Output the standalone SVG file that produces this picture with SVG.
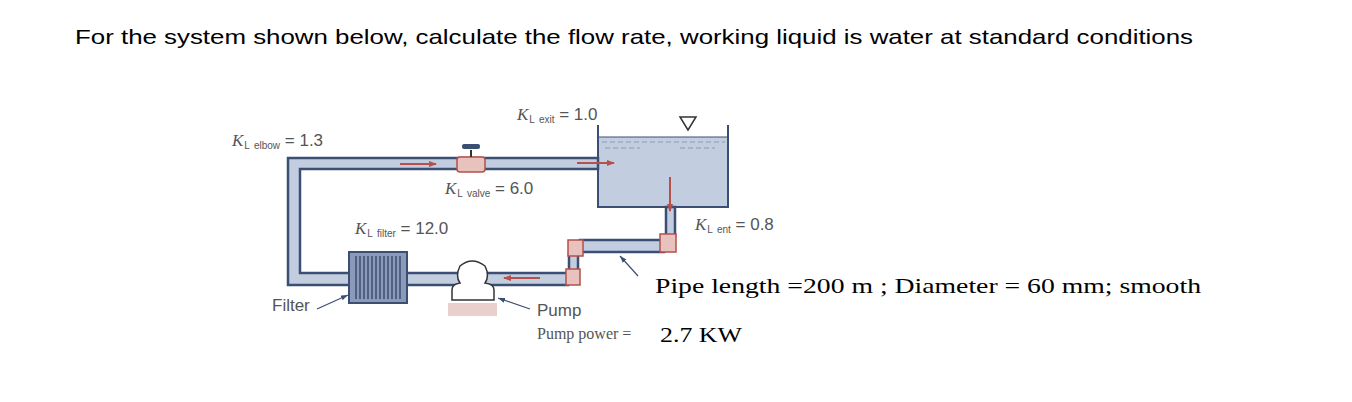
<svg xmlns="http://www.w3.org/2000/svg" width="1352" height="402" viewBox="0 0 1352 402">
<style>
.pipe{fill:#c3cde0;stroke:#3b4f74;stroke-width:2.5}
.fit{fill:#e8c3bd;stroke:#b5504b;stroke-width:1.5}
.lbl{font-family:"Liberation Sans",Arial,sans-serif;fill:#555;font-size:17px}
.k{font-family:"Liberation Serif",serif;font-style:italic;fill:#555;font-size:17px}
.sub{font-family:"Liberation Sans",Arial,sans-serif;fill:#555;font-size:10px}
.ser{font-family:"Liberation Serif",serif;fill:#000;font-size:22px}
.fl{stroke:#b5504b;stroke-width:2;fill:none;marker-end:url(#ah)}
.ptr{stroke:#3b4f74;stroke-width:1.2;fill:none;marker-end:url(#pa)}
</style>
<defs>
<marker id="ah" markerWidth="8" markerHeight="6" refX="7" refY="3" orient="auto" markerUnits="userSpaceOnUse" viewBox="0 0 8 6"><path d="M0,0L8,3L0,6z" fill="#b5504b"/></marker>
<marker id="pa" markerWidth="7" markerHeight="5" refX="7" refY="2.5" orient="auto" markerUnits="userSpaceOnUse" viewBox="0 0 7 5"><path d="M0,0L7,2.5L0,5z" fill="#3b4f74"/></marker>
</defs>
<text x="75" y="44" font-family="Liberation Sans,Arial,sans-serif" font-size="21" fill="#000" textLength="1118" lengthAdjust="spacingAndGlyphs">For the system shown below, calculate the flow rate, working liquid is water at standard conditions</text>
<g id="tank">
<path d="M598,137H728V207H598Z" fill="#c3cde0"/>
<path d="M598,125V158M598,169V207H728V125" fill="none" stroke="#3b4f74" stroke-width="2"/>
<line x1="599" y1="137" x2="727" y2="137" stroke="#3b4f74" stroke-width="1"/>
<path d="M602,142H725M605,148H640M680,148H715" stroke="#8a9ab8" stroke-width="1" stroke-dasharray="5,3"/>
<path d="M680,117H696L688,130Z" fill="#fff" stroke="#333" stroke-width="1.5"/>
</g>
<g id="loop">
<path class="pipe" d="M598,158H288V285H568V273H300V169H598Z"/>
<rect class="pipe" x="666" y="207" width="9" height="30"/>
<rect class="pipe" x="580" y="240" width="84" height="12"/>
<rect class="pipe" x="569" y="254" width="9" height="18"/>
<path class="fit" d="M660,234H676V252H660Z"/>
<path class="fit" d="M568,240H583V256H568Z"/>
<path class="fit" d="M566,269H580V285H566Z"/>
</g>
<g id="valve">
<rect class="fit" x="457" y="157" width="28" height="15" rx="3"/>
<line x1="471" y1="150" x2="471" y2="157" stroke="#333" stroke-width="2"/>
<rect x="462" y="144" width="18" height="5" rx="2" fill="#3b4f74"/>
</g>
<g id="filter">
<rect x="349" y="252" width="58" height="51" fill="#8a9ab8" stroke="#3b4f74" stroke-width="2"/>
<path d="M356,256V299M360,256V299M364,256V299M368,256V299M372,256V299M376,256V299M380,256V299M384,256V299M388,256V299M392,256V299M396,256V299M400,256V299" stroke="#3b4f74" stroke-width="1.5"/>
</g>
<g id="pump">
<rect x="448" y="303" width="49" height="13" fill="#ead0cc"/>
<path d="M452,300V290Q452,284 460,283Q455,276 460,266Q472,256 485,266Q490,276 485,283Q494,284 494,290V300Z" fill="#fff" stroke="#333" stroke-width="1.5"/>
</g>
<g id="connectors">
<line class="fl" x1="400" y1="164" x2="436" y2="164"/>
<line class="fl" x1="577" y1="163" x2="614" y2="163"/>
<line class="fl" x1="670" y1="177" x2="670" y2="211"/>
<line class="fl" x1="540" y1="278" x2="504" y2="278"/>
<line class="ptr" x1="317" y1="309" x2="348" y2="295"/>
<line class="ptr" x1="530" y1="309" x2="498" y2="298"/>
<line class="ptr" x1="638" y1="276" x2="620" y2="256"/>
</g>
<g id="labels">
<text x="232" y="146"><tspan class="k">K</tspan><tspan class="sub" dx="1" dy="3">L</tspan><tspan class="sub" dx="4">elbow</tspan><tspan class="lbl" dy="-3" font-family="Liberation Serif,serif"> = 1.3</tspan></text>
<text x="517" y="120"><tspan class="k">K</tspan><tspan class="sub" dx="1" dy="3">L</tspan><tspan class="sub" dx="4">exit</tspan><tspan class="lbl" dy="-3"> = 1.0</tspan></text>
<text x="445" y="194"><tspan class="k">K</tspan><tspan class="sub" dx="1" dy="3">L</tspan><tspan class="sub" dx="4">valve</tspan><tspan class="lbl" dy="-3"> = 6.0</tspan></text>
<text x="355" y="234"><tspan class="k">K</tspan><tspan class="sub" dx="1" dy="3">L</tspan><tspan class="sub" dx="4">filter</tspan><tspan class="lbl" dy="-3"> = 12.0</tspan></text>
<text x="695" y="230"><tspan class="k">K</tspan><tspan class="sub" dx="1" dy="3">L</tspan><tspan class="sub" dx="4">ent</tspan><tspan class="lbl" dy="-3"> = 0.8</tspan></text>
<text class="lbl" x="272" y="311">Filter</text>
<text class="lbl" x="537" y="316">Pump</text>
<text x="537" y="339" font-family="Liberation Serif,serif" font-size="16" fill="#555">Pump power  =</text>
<text class="ser" x="660" y="342" textLength="82" lengthAdjust="spacingAndGlyphs">2.7 KW</text>
<text class="ser" x="655" y="293" textLength="546" lengthAdjust="spacingAndGlyphs">Pipe length =200 m ; Diameter = 60 mm;  smooth</text>
</g>
</svg>
